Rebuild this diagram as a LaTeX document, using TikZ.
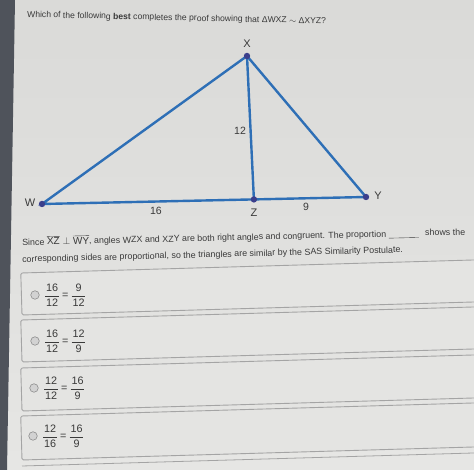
\documentclass[tikz,border=0pt]{standalone}
\usepackage{amsmath}
\usepackage{fontspec}
\setmainfont{Liberation Sans}
\usetikzlibrary{calc}
\definecolor{pagebg}{HTML}{DADAD8}
\definecolor{pagebg2}{HTML}{E6E6E4}
\definecolor{strip}{HTML}{4F535B}
\definecolor{triblue}{HTML}{2E6FB6}
\definecolor{dotc}{HTML}{3B3F8C}
\definecolor{txt}{HTML}{3A3A3A}
\definecolor{boxfill}{HTML}{E4E4E2}
\definecolor{boxline}{HTML}{A4A4A4}
\definecolor{radiofill}{HTML}{D2D2D2}
\definecolor{radioline}{HTML}{8E8E8E}
\newcommand\fr[2]{$\genfrac{}{}{0.6pt}{0}{\mbox{\kern0.8pt#1\kern0.8pt}}{\mbox{\kern0.8pt#2\kern0.8pt}}$}
\newcommand\eqs{\hspace{2pt}=\hspace{2pt}}
\tikzset{
  seg/.style={draw=triblue, line width=2.4pt, line cap=round},
  vdot/.style={fill=dotc},
  vlabel/.style={text=txt, font=\fontsize{11}{13}\selectfont, inner sep=0pt},
  nlabel/.style={text=txt, font=\fontsize{10.5}{12}\selectfont, inner sep=0pt},
  qtext/.style={text=txt, font=\fontsize{8.9}{11}\selectfont, inner sep=0pt, anchor=west},
  optbox/.style={draw=boxline, fill=boxfill, line width=0.9pt, rounded corners=1.5pt},
  radio/.style={draw=radioline, fill=radiofill, line width=0.6pt},
  opttext/.style={text=txt, font=\fontsize{10.8}{13}\selectfont, inner sep=0pt, anchor=west}
}
\begin{document}
\begin{tikzpicture}[x=1pt,y=1pt]
\useasboundingbox (0,0) rectangle (474,470);
% page background
\shade[top color=pagebg, bottom color=pagebg2] (0,0) rectangle (474,470);
\fill[strip] (0,0) -- (0,470) -- (15,470) -- (7,0) -- cycle;
% title
\node[qtext, font=\fontsize{8.6}{10}\selectfont, rotate=-1.3] (title) at (27,455)
  {Which of the following \textbf{best} completes the proof showing that ΔWXZ $\sim$ ΔXYZ?};
% triangle
\coordinate (X) at (247,414);
\coordinate (W) at (42,266);
\coordinate (Y) at (366,273);
\coordinate (Z) at ($(W)!0.654!(Y)$);
\coordinate (ra) at ($(Z)!19!(W)$);
\coordinate (rb) at ($(Z)!19!(X)$);
\draw[draw=txt, line width=1.1pt] (ra) -- ($(ra)+(rb)-(Z)$) -- (rb);
\draw[seg] (W) -- (X) -- (Y) -- cycle;
\draw[seg] (X) -- (Z);
\foreach \p in {W,X,Y,Z} \fill[vdot] (\p) circle (3.2);
\node[vlabel] (lX) at (247,426) {X};
\node[vlabel] (lW) at (30,267) {W};
\node[vlabel] (lY) at (378,274) {Y};
\node[vlabel] (lZ) at (254,257) {Z};
\node[nlabel] (l12) at (240,339) {12};
\node[nlabel] (l16) at (156,259) {16};
\node[nlabel] (l9) at (306,263) {9};
% question text
\node[qtext, rotate=1.35] (q1) at (22,228)
  {Since {\fontsize{10}{12}\selectfont$\overline{\mbox{XZ}}\perp\overline{\mbox{WY}}$}, angles WZX and XZY are both right angles and congruent. The proportion \underline{\hspace{30pt}}\hspace{4pt} shows the};
\node[qtext, rotate=1.45] (q2) at (22,210)
  {corresponding sides are proportional, so the triangles are similar by the SAS Similarity Postulate.};
% option boxes
\foreach \t/\b/\n in {197/155/1,150/108/2,102/59/3,54/10/4}{
  \begin{scope}[rotate around={1.65:(22,\b)}]
    \path[optbox] (22,\b) rectangle (520,\t);
  \end{scope}
}
\begin{scope}[rotate around={1.65:(22,4)}]
  \draw[boxline, line width=0.8pt] (22,4) -- (520,4);
\end{scope}
% radio buttons and answers
\node[radio, circle, minimum size=8.5pt, inner sep=0pt] (r1) at (35,175) {};
\node[radio, circle, minimum size=8.5pt, inner sep=0pt] (r2) at (35,129) {};
\node[radio, circle, minimum size=8.5pt, inner sep=0pt] (r3) at (34,82) {};
\node[radio, circle, minimum size=8.5pt, inner sep=0pt] (r4) at (33,34) {};
\node[opttext] (a1) at (44,175) {\fr{16}{12}\eqs\fr{9}{12}};
\node[opttext] (a2) at (44,129) {\fr{16}{12}\eqs\fr{12}{9}};
\node[opttext] (a3) at (43,82) {\fr{12}{12}\eqs\fr{16}{9}};
\node[opttext] (a4) at (42,34) {\fr{12}{16}\eqs\fr{16}{9}};
\end{tikzpicture}
\end{document}
